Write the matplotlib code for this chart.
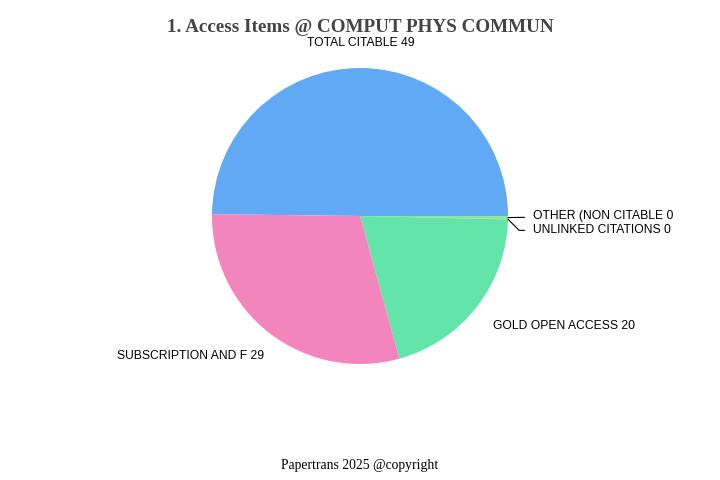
import numpy as np
import matplotlib
matplotlib.use("Agg")
import matplotlib.pyplot as plt

# slice data (the two "0" slices are tiny but non-zero)
names = ["TOTAL CITABLE", "OTHER (NON CITABLE", "UNLINKED CITATIONS",
         "GOLD OPEN ACCESS", "SUBSCRIPTION AND F"]
values = [49, 0.3, 0.05, 20, 29]
colors = ["#61a9f5", "#8ee67c", "#7fd3e8", "#63e5aa", "#f285bc"]

fig = plt.figure(figsize=(7.2, 4.8), dpi=100)
ax = fig.add_axes([212 / 720, 116 / 480, 296 / 720, 296 / 480])

wedges, _ = ax.pie(values, colors=colors, startangle=179.3, counterclock=False,
                   radius=1.0, wedgeprops=dict(linewidth=0))
ax.set_xlim(-1, 1)
ax.set_ylim(-1, 1)
ax.set_aspect("equal")
ax.axis("off")

lab_font = dict(family="Liberation Sans", fontsize=8.7, color="black")

for i, w in enumerate(wedges):
    txt = f"{names[i]} {int(round(values[i]))}"
    mid = np.deg2rad((w.theta1 + w.theta2) / 2)
    if values[i] < 1:
        # small slices: leader lines out to the right
        ex, ey = np.cos(mid), np.sin(mid)
        if i == 1:
            ax.annotate(txt, xy=(ex, ey), xytext=(18, 1), textcoords="offset points",
                        ha="left", va="center",
                        arrowprops=dict(arrowstyle="-", color="black", lw=0.8,
                                        shrinkA=4, shrinkB=0),
                        **lab_font)
        else:
            ax.annotate(txt, xy=(ex, ey), xytext=(18, -8), textcoords="offset points",
                        ha="left", va="center",
                        arrowprops=dict(arrowstyle="-", color="black", lw=0.8,
                                        shrinkA=4, shrinkB=0,
                                        connectionstyle="angle,angleA=0,angleB=-45,rad=0"),
                        **lab_font)
        continue
    if abs(np.cos(mid)) < 0.2:
        x, y = 1.17 * np.cos(mid), 1.17 * np.sin(mid)
        ax.text(x, y, txt, ha="center", va="center", **lab_font)
        continue
    r = 1.14
    x, y = r * np.cos(mid), r * np.sin(mid)
    ha = "left" if np.cos(mid) > 0 else "right"
    if ha == "right":
        x += 0.05
    ax.text(x, y, txt, ha=ha, va="top", **lab_font)

fig.text(0.5, 1 - 27 / 480, "1. Access Items @ COMPUT PHYS COMMUN", ha="center", va="center",
         family="Liberation Serif", fontsize=13.8, fontweight="bold", color="#444444")
fig.text(0.5, 1 - 466 / 480, "Papertrans 2025 @copyright", ha="center", va="center",
         family="Liberation Serif", fontsize=9.8, color="black")

fig.savefig("out.png", dpi=100)
